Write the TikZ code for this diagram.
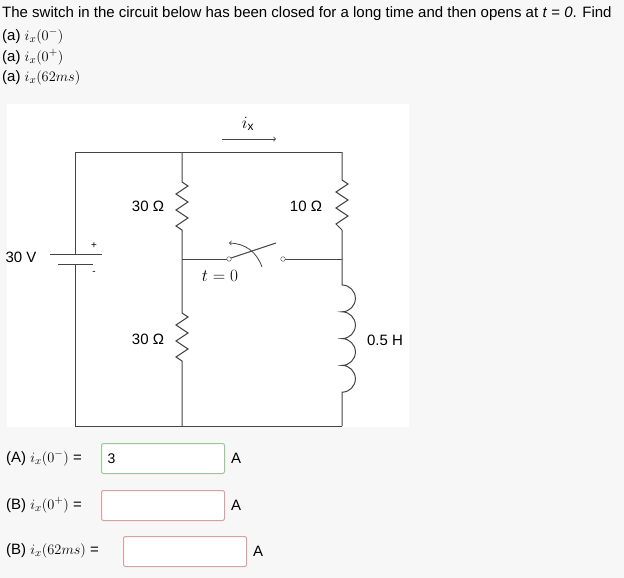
\documentclass[tikz,border=0pt]{standalone}
\usepackage{fontspec}
\setmainfont{Liberation Sans}
\definecolor{bg}{HTML}{F7F7F7}
\definecolor{wire}{HTML}{444444}
\definecolor{okb}{HTML}{9CC79A}
\definecolor{badb}{HTML}{D9A0A0}
\begin{document}
\begin{tikzpicture}[x=1pt,y=-1pt,
  w/.style={draw=wire,line width=1pt},
  txt/.style={inner sep=0pt,font=\fontsize{15}{18}\selectfont,anchor=west},
  lab/.style={inner sep=0pt,font=\fontsize{15}{18}\selectfont},
  box/.style={draw,rounded corners=2pt,line width=1pt,fill=white,minimum height=30pt,anchor=north west,inner sep=6pt,font=\fontsize{14}{16}\selectfont}]
\fill[bg] (0,0) rectangle (624,578);
\useasboundingbox (0,0) rectangle (624,578);
\fill[white] (7,104) rectangle (409,427);
% header text
\node[txt] (t1) at (2,14) {The switch in the circuit below has been closed for a long time and then opens at \textit{t} = \textit{0}. Find};
\node[txt] (t2) at (2,36) {(a) $i_x(0^-)$};
\node[txt] (t3) at (2,57) {(a) $i_x(0^+)$};
\node[txt] (t4) at (2,78) {(a) $i_x(62ms)$};
% coordinates
\coordinate (TL) at (75,152); \coordinate (TM) at (182,152); \coordinate (TR) at (342,152);
\coordinate (BL) at (75,426); \coordinate (BM) at (182,426); \coordinate (BR) at (342,426);
\coordinate (MJ) at (182,259); \coordinate (RJ) at (342,259);
\coordinate (S1) at (229,259); \coordinate (S2) at (283,259);
% wires
\draw[w] (TL) -- (TR); \draw[w] (BL) -- (BR);
\draw[w] (TL) -- (75,254); \draw[w] (75,264) -- (BL);
\draw[w] (50,254) -- (102,254); \draw[w] (58,264) -- (93,264);
\node[lab,font=\fontsize{10}{10}\selectfont] (plus) at (94,246) {+};
\node[lab,font=\fontsize{10}{10}\selectfont] (minus) at (94,273) {-};
\node[lab] (v) at (21,257) {30 V};
% middle resistors
\draw[w] (TM) -- (182,182) -- (188,186) -- (176,194) -- (188,202) -- (176,210) -- (188,218) -- (176,226) -- (182,230) -- (MJ) -- (182,313) -- (188,317) -- (176,325) -- (188,333) -- (176,341) -- (188,349) -- (176,357) -- (182,361) -- (BM);
\node[lab] (r1) at (148,206) {30 Ω};
\node[lab] (r2) at (148,339) {30 Ω};
% right resistor + inductor
\draw[w] (TR) -- (342,180) -- (348,184) -- (336,192) -- (348,200) -- (336,208) -- (348,216) -- (336,224) -- (342,230) -- (RJ) -- (342,285)
  arc(-90:90:13.4) arc(-90:90:13.4) arc(-90:90:13.4) arc(-90:90:13.4) -- (BR);
\node[lab] (r3) at (306,206) {10 Ω};
\node[lab] (L) at (385,340) {0.5 H};
% switch
\draw[w] (MJ) -- (S1); \draw[w] (S2) -- (RJ);
\draw[wire,fill=white] (S1) circle (2.3); \draw[wire,fill=white] (S2) circle (2.3);
\draw[w] (231,258) -- (276,243);
\draw[wire,line width=0.8pt,->] (262,267) to[bend right=35] (229,243);
\node[inner sep=0pt,font=\fontsize{17}{18}\selectfont] (t0) at (220,276) {$t=0$};
% ix
\node[inner sep=0pt,font=\fontsize{17}{18}\selectfont] (ix) at (248,124) {$i_{\mathrm{x}}$};
\coordinate (a1) at (222,139); \coordinate (a2) at (276,139);
\draw[wire,line width=0.8pt,->] (a1) -- (a2);
% answers
\node[txt] (qa) at (6,458) {(A) $i_x(0^-)$ =};
\node[box,draw=okb,minimum width=123pt,text width=111pt,align=left] (ba) at (101,443) {3};
\node[txt] (ua) at (231,458) {A};
\node[txt] (qb) at (6,505) {(B) $i_x(0^+)$ =};
\node[box,draw=badb,minimum width=123pt] (bb) at (101,490) {};
\node[txt] (ub) at (231,505) {A};
\node[txt] (qc) at (6,551) {(B) $i_x(62ms)$ =};
\node[box,draw=badb,minimum width=123pt] (bc) at (123,536) {};
\node[txt] (uc) at (253,551) {A};
\end{tikzpicture}
\end{document}
